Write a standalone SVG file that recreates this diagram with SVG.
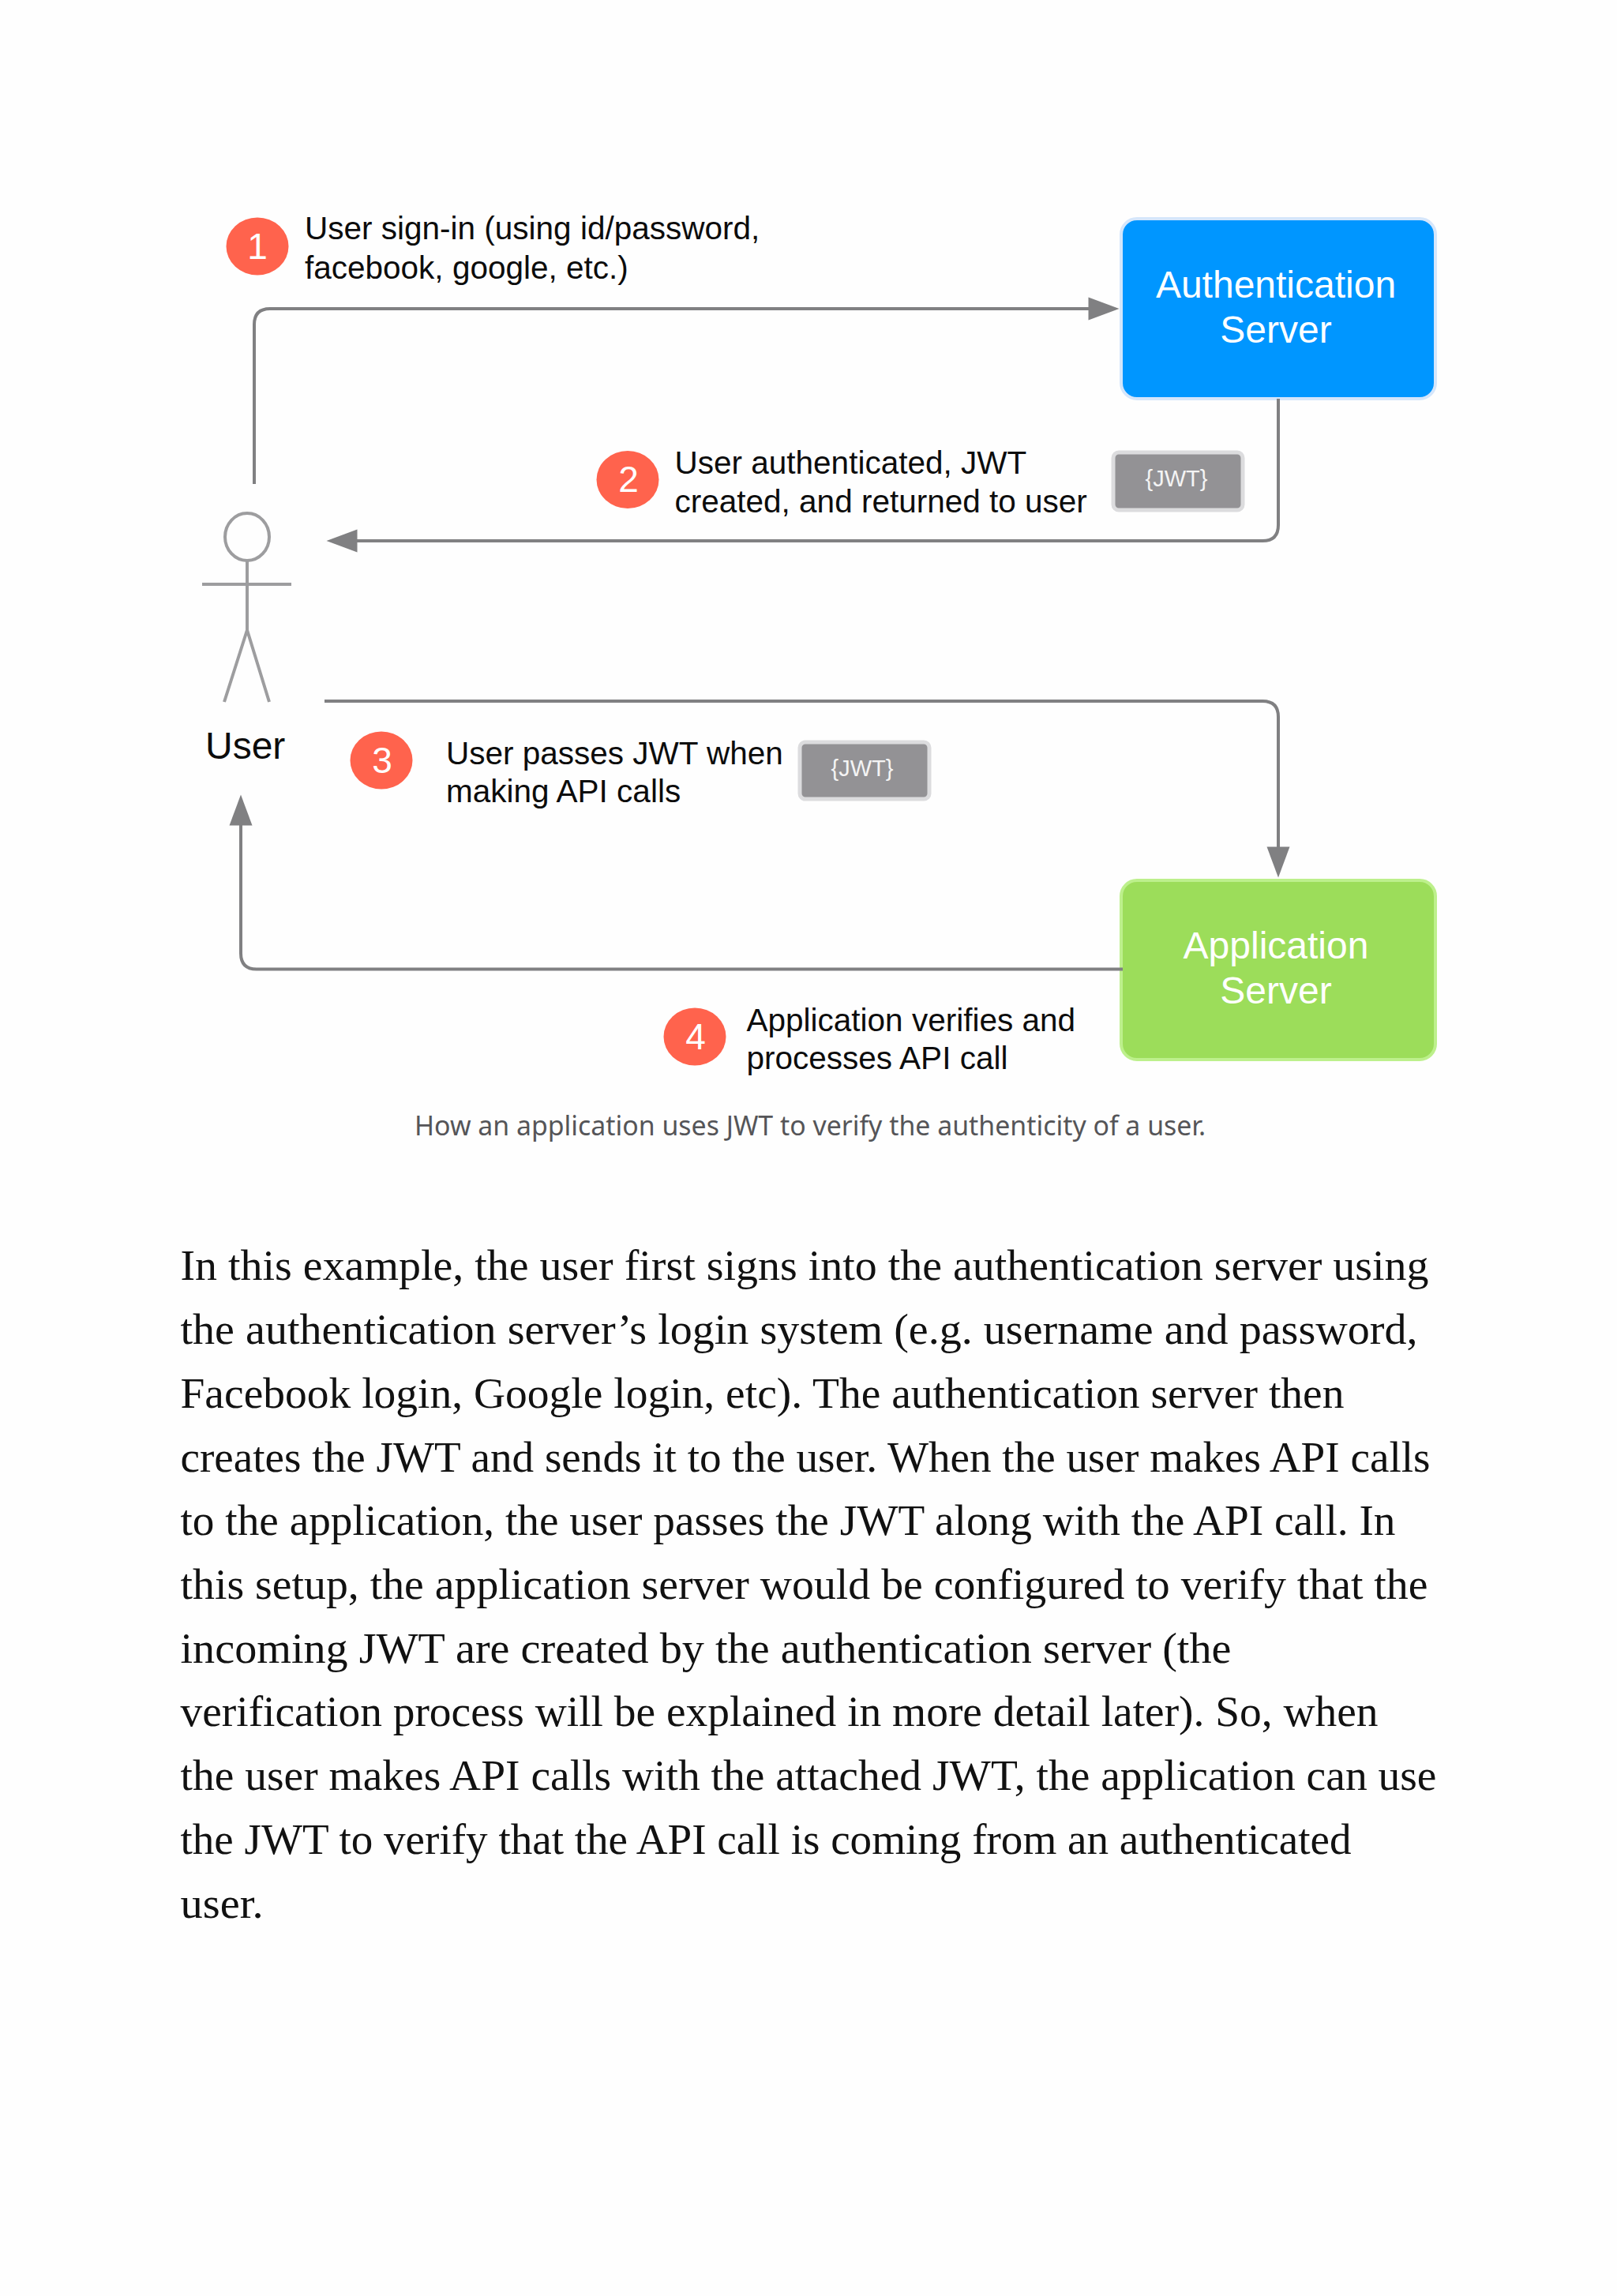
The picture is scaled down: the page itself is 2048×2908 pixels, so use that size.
<svg xmlns="http://www.w3.org/2000/svg" width="2048" height="2908" viewBox="0 0 2048 2908">
<style>
.s{font-family:"Liberation Sans",Arial,sans-serif}
.l{font-size:40.500px;fill:#0c0c0c}
.n{font-size:46px;fill:#fff;text-anchor:middle}
.t{font-size:48px;fill:#fff;text-anchor:middle}
.j{font-size:29px;fill:#f4f4f4;text-anchor:middle}
.c{fill:#ff634d}
.jb{fill:#939295;stroke:#dcdcde;stroke-width:5}
.b{font-family:"Liberation Serif","Times New Roman",serif;font-size:54px;fill:#111}
.w{fill:none;stroke:#808082;stroke-width:4}
.a{fill:none;stroke:#9d9d9f;stroke-width:4}
</style>
<defs>
<marker id="arrow" markerUnits="userSpaceOnUse" markerWidth="40" markerHeight="30" refX="20" refY="15" orient="auto">
<path d="M0.500 0.500L39.500 15L0.500 29.500Z" fill="#808082"/>
</marker>
</defs>
<rect width="2048" height="2908" fill="#fefefe"/>
<g id="auth-server">
<rect x="1420" y="277" width="398" height="228" rx="20" fill="#0096ff" stroke="#d5e6fb" stroke-width="4"/>
<text class="s t" x="1616" y="377">Authentication</text>
<text class="s t" x="1616" y="434">Server</text>
</g>
<g id="app-server">
<rect x="1420" y="1115" width="398" height="227" rx="20" fill="#9cdd5a" stroke="#bdf08c" stroke-width="4"/>
<text class="s t" x="1616" y="1214">Application</text>
<text class="s t" x="1616" y="1271">Server</text>
</g>
<g id="user">
<ellipse class="a" cx="313" cy="680" rx="28" ry="30"/>
<path class="a" d="M313 710V798M256 740H369M313 798L284 889M313 798L341 889"/>
<text class="s" x="260" y="961" font-size="48" fill="#0c0c0c">User</text>
</g>
<g id="step-1">
<ellipse class="c" cx="326" cy="312" rx="39.500" ry="36.500"/>
<text class="s n" x="326" y="328">1</text>
<text class="s l" x="386" y="303">User sign-in (using id/password,</text>
<text class="s l" x="386" y="353">facebook, google, etc.)</text>
</g>
<g id="step-2">
<ellipse class="c" cx="795" cy="607.500" rx="39.500" ry="36.500"/>
<text class="s n" x="796" y="623">2</text>
<text class="s l" x="854.500" y="599.500">User authenticated, JWT</text>
<text class="s l" x="854.500" y="648.500">created, and returned to user</text>
</g>
<g id="jwt-1">
<rect class="jb" x="1410" y="573" width="164" height="73" rx="7"/>
<text class="s j" x="1490" y="616">{JWT}</text>
</g>
<g id="step-3">
<ellipse class="c" cx="483" cy="963" rx="39.500" ry="36.500"/>
<text class="s n" x="484" y="979">3</text>
<text class="s l" x="565" y="967.500">User passes JWT when</text>
<text class="s l" x="565" y="1015.500">making API calls</text>
</g>
<g id="jwt-2">
<rect class="jb" x="1013" y="940" width="164" height="72" rx="7"/>
<text class="s j" x="1092" y="983">{JWT}</text>
</g>
<g id="step-4">
<ellipse class="c" cx="880" cy="1313" rx="39.500" ry="36.500"/>
<text class="s n" x="881" y="1329">4</text>
<text class="s l" x="945.500" y="1305.500">Application verifies and</text>
<text class="s l" x="945.500" y="1353.500">processes API call</text>
</g>
<g id="connectors">
<path class="w" d="M322 613V411Q322 391 342 391H1398" marker-end="url(#arrow)"/>
<path class="w" d="M1619 505V665Q1619 685 1599 685H433" marker-end="url(#arrow)"/>
<path class="w" d="M411 888H1599Q1619 888 1619 908V1092" marker-end="url(#arrow)"/>
<path class="w" d="M1422 1227.500H325Q305 1227.500 305 1207.500V1026" marker-end="url(#arrow)"/>
</g>
<text x="525" y="1437.500" font-family="'Noto Sans',sans-serif" font-size="35" fill="#555558" textLength="1002" lengthAdjust="spacingAndGlyphs">How an application uses JWT to verify the authenticity of a user.</text>
<g id="body">
<text class="b" x="228.500" y="1621" textLength="1581" lengthAdjust="spacingAndGlyphs">In this example, the user first signs into the authentication server using</text>
<text class="b" x="228.500" y="1702" textLength="1567" lengthAdjust="spacingAndGlyphs">the authentication server’s login system (e.g. username and password,</text>
<text class="b" x="228.500" y="1782.500" textLength="1474" lengthAdjust="spacingAndGlyphs">Facebook login, Google login, etc). The authentication server then</text>
<text class="b" x="228.500" y="1863.500" textLength="1583" lengthAdjust="spacingAndGlyphs">creates the JWT and sends it to the user. When the user makes API calls</text>
<text class="b" x="228.500" y="1944" textLength="1539" lengthAdjust="spacingAndGlyphs">to the application, the user passes the JWT along with the API call. In</text>
<text class="b" x="228.500" y="2025" textLength="1580" lengthAdjust="spacingAndGlyphs">this setup, the application server would be configured to verify that the</text>
<text class="b" x="228.500" y="2105.500" textLength="1331" lengthAdjust="spacingAndGlyphs">incoming JWT are created by the authentication server (the</text>
<text class="b" x="228.500" y="2186" textLength="1517" lengthAdjust="spacingAndGlyphs">verification process will be explained in more detail later). So, when</text>
<text class="b" x="228.500" y="2267" textLength="1591" lengthAdjust="spacingAndGlyphs">the user makes API calls with the attached JWT, the application can use</text>
<text class="b" x="228.500" y="2348" textLength="1483" lengthAdjust="spacingAndGlyphs">the JWT to verify that the API call is coming from an authenticated</text>
<text class="b" x="228.500" y="2429" textLength="105" lengthAdjust="spacingAndGlyphs">user.</text>
</g>
</svg>
